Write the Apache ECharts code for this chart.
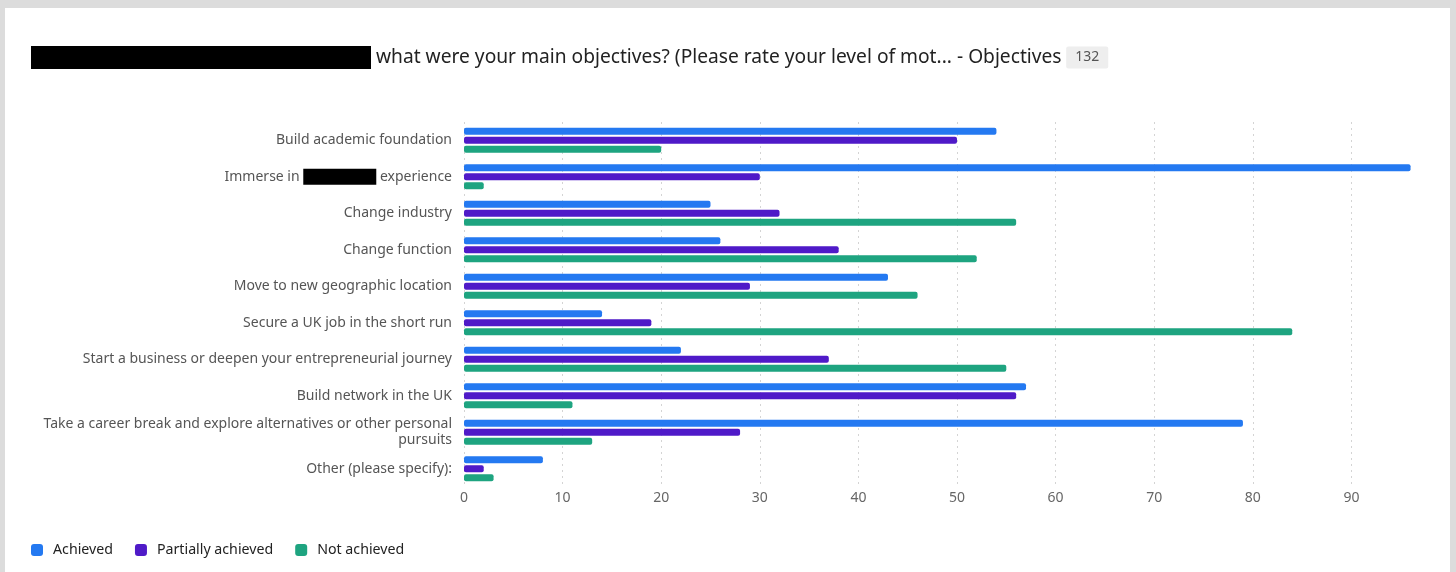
<!DOCTYPE html>
<html>
<head>
<meta charset="utf-8">
<script src="https://cdn.jsdelivr.net/npm/echarts@6/dist/echarts.min.js"></script>
<style>
  html, body { margin: 0; padding: 0; background: #dcdcdc; width: 1456px; height: 572px; overflow: hidden; }
  #panel { position: absolute; left: 5px; top: 8px; width: 1445px; height: 564px; background: #fff; overflow: hidden; }
  #chart { position: absolute; left: -5px; top: -8px; width: 1500px; height: 572px; }
</style>
</head>
<body>
<div id="panel"><div id="chart"></div></div>
<script>
const categories = [
  'Build academic foundation',
  'Immerse in {r|} experience',
  'Change industry',
  'Change function',
  'Move to new geographic location',
  'Secure a UK job in the short run',
  'Start a business or deepen your entrepreneurial journey',
  'Build network in the UK',
  'Take a career break and explore alternatives or other personal\npursuits',
  'Other (please specify):'
];
const achieved = [54, 96, 25, 26, 43, 14, 22, 57, 79, 8];
const partiallyAchieved = [50, 30, 32, 38, 29, 19, 37, 56, 28, 2];
const notAchieved = [20, 2, 56, 52, 46, 84, 55, 11, 13, 3];
const seriesNames = ['Achieved', 'Partially achieved', 'Not achieved'];
const responseCount = '132';

const font = 'Noto Sans';
const colors = ['#2479f1', '#4f1ac8', '#1ea480'];

const chart = echarts.init(document.getElementById('chart'));

const barSeries = (name, data, color) => ({
  name,
  type: 'bar',
  data,
  barWidth: 7,
  barGap: '30%',
  itemStyle: { color, borderRadius: 2 },
});

chart.setOption({
  animation: false,
  textStyle: { fontFamily: font },
  title: {
    text: '{box|}{t| what were your main objectives? (Please rate your level of mot... - Objectives} {badge|' + responseCount + '}',
    left: 26,
    top: 41,
    textStyle: {
      fontWeight: 'normal',
      rich: {
        box: { backgroundColor: '#000', width: 340, height: 23 },
        t: { fontFamily: font, fontSize: 19.2, fontWeight: 'normal', color: '#222', height: 23 },
        badge: { fontFamily: font, fontSize: 14, fontWeight: 'normal', color: '#555', backgroundColor: '#eeeeee', padding: [4, 9, 4, 9], borderRadius: 2 },
      },
    },
  },
  legend: {
    data: seriesNames,
    left: 26,
    top: 538,
    icon: 'roundRect',
    itemWidth: 12,
    itemHeight: 12,
    itemGap: 22,
    textStyle: { fontFamily: font, fontSize: 14.2, color: '#222', padding: [0, 0, 0, 5] },
  },
  grid: { left: 464, right: 50, top: 122, bottom: 85, containLabel: false },
  xAxis: {
    type: 'value',
    min: 0,
    max: 100,
    interval: 10,
    axisLine: { show: false },
    axisTick: { show: false },
    axisLabel: { color: '#666', fontSize: 14, fontFamily: font, margin: 4, showMaxLabel: false },
    splitLine: { lineStyle: { color: '#d4d4d4', type: [2, 4], width: 1 } },
  },
  yAxis: {
    type: 'category',
    data: categories,
    inverse: true,
    axisLine: { show: false },
    axisTick: { show: false },
    axisLabel: {
      color: '#555',
      fontSize: 14,
      fontFamily: font,
      margin: 12,
      lineHeight: 16,
      rich: { r: { backgroundColor: '#000', width: 73, height: 16 } },
    },
  },
  series: [
    barSeries(seriesNames[0], achieved, colors[0]),
    barSeries(seriesNames[1], partiallyAchieved, colors[1]),
    barSeries(seriesNames[2], notAchieved, colors[2]),
  ],
});
</script>
</body>
</html>
